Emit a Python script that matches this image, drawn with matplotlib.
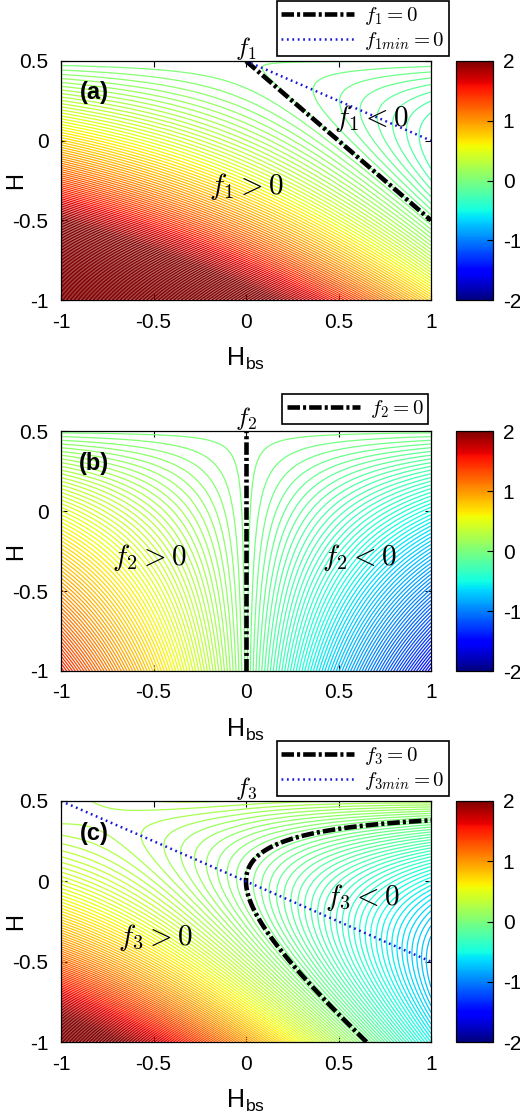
import numpy as np
import matplotlib
matplotlib.use('Agg')
import matplotlib.pyplot as plt
from matplotlib.lines import Line2D
from matplotlib.colors import Normalize
from matplotlib.cm import ScalarMappable

plt.rcParams['mathtext.fontset'] = 'cm'
plt.rcParams['font.family'] = ['Liberation Sans', 'DejaVu Sans']
plt.rcParams['axes.unicode_minus'] = False
plt.rcParams['lines.scale_dashes'] = False

# axis ranges and ticks
hbs_range = [-1, 1]
h_range = [-1, 0.5]
xticks = [-1, -0.5, 0, 0.5, 1]
xticklabels = ['-1', '-0.5', '0', '0.5', '1']
yticks = [-1, -0.5, 0, 0.5]
yticklabels = ['-1', '-0.5', '0', '0.5']
cbar_ticks = [-2, -1, 0, 1, 2]
cbar_ticklabels = ['-2', '-1', '0', '1', '2']

# field coefficients
f1_scale = 1.0
f2_scale = 1.0
f3_lin = 0.555
f3_quad = 0.219
f3_saddle = -0.8
n_levels = [130, 130, 130]

# marked lines
f1zero_hbs = [0, 1]
f1zero_h = [0.5, -0.5]
f1min_hbs = [0, 1]
f1min_h = [0.5, 0]
f2zero_hbs = [0, 0]
f2zero_h = [-1, 0.5]
f3min_hbs = [-1, 1]
f3min_h = [0.5, -0.5]

hbs = np.linspace(hbs_range[0], hbs_range[1], 500)
h = np.linspace(h_range[0], h_range[1], 400)
X, Y = np.meshgrid(hbs, h)
U = 0.5 - Y

Z1 = f1_scale * U * (U - X)
Z2 = -f2_scale * X * U
G3 = np.where(X >= 0, -f3_lin * X - f3_quad * X ** 2,
              -f3_lin * X * (1 + X / (2 * -f3_saddle)))
Z3 = (Y + X / 2) ** 2 + G3

W, Hpx = 520, 1117
axes_top = [61, 431, 801]
axes_bot = [300, 671, 1042]

DASHDOT = (0, (9, 2.2, 2.2, 2.2))
DOT = (0, (1.3, 2.6))
BLUE = '#1a1ad6'

fig = plt.figure(figsize=(W / 100, Hpx / 100), dpi=100)

fields = [Z1, Z2, Z3]
tags = ['(a)', '(b)', '(c)']
titles = ['$f_1$', '$f_2$', '$f_3$']

for i in range(3):
    top, bot = axes_top[i], axes_bot[i]
    ax = fig.add_axes([61 / W, 1 - bot / Hpx, 370 / W, (bot - top) / Hpx])
    Z = fields[i]
    lev = np.linspace(Z.min(), Z.max(), n_levels[i])
    ax.contour(X, Y, Z, levels=lev, cmap='jet', vmin=-2, vmax=2, linewidths=0.9)
    ax.set_xlim(hbs_range)
    ax.set_ylim(h_range)
    ax.set_xticks(xticks)
    ax.set_xticklabels(xticklabels)
    ax.set_yticks(yticks)
    ax.set_yticklabels(yticklabels)
    ax.tick_params(direction='in', top=True, right=True, length=4, width=0.8,
                   labelsize=15)
    ax.tick_params(axis='x', pad=9)
    ax.tick_params(axis='y', pad=9)
    for s in ax.spines.values():
        s.set_linewidth(0.9)
    ax.set_xlabel('H$_{\\mathregular{bs}}$', fontsize=18)
    ax.set_ylabel('H', fontsize=17)
    ax.xaxis.set_label_coords(0.5, -46 / (bot - top))
    ax.yaxis.set_label_coords(-34 / 370, 0.5)
    ax.set_title(titles[i], fontsize=18, pad=4)
    ax.text(-0.82, 0.3, tags[i], fontsize=17, fontweight='bold', ha='center', va='center')

    if i == 0:
        ax.plot(f1zero_hbs, f1zero_h, color='k', lw=3.3, linestyle=DASHDOT)
        ax.plot(f1min_hbs, f1min_h, color=BLUE, lw=1.8, linestyle=DOT)
        ax.text(0.0, -0.29, '$f_1 > 0$', fontsize=21, ha='center', va='center')
        ax.text(0.68, 0.14, '$f_1 < 0$', fontsize=21, ha='center', va='center')
        handles = [Line2D([], [], color='k', lw=3.3, linestyle=DASHDOT),
                   Line2D([], [], color=BLUE, lw=1.8, linestyle=DOT)]
        labels = ['$f_1 = 0$', '$f_{1min} = 0$']
        anchor = (1.049, 1 + 60 / (bot - top))
    elif i == 1:
        ax.plot(f2zero_hbs, f2zero_h, color='k', lw=3.3, linestyle=DASHDOT)
        ax.text(-0.52, -0.29, '$f_2 > 0$', fontsize=21, ha='center', va='center')
        ax.text(0.61, -0.29, '$f_2 < 0$', fontsize=21, ha='center', va='center')
        handles = [Line2D([], [], color='k', lw=3.3, linestyle=DASHDOT)]
        labels = ['$f_2 = 0$']
        anchor = (0.992, 1 + 37 / (bot - top))
    else:
        ax.contour(X, Y, Z, levels=[0], colors='k', linewidths=3.3, linestyles=[DASHDOT])
        ax.plot(f3min_hbs, f3min_h, color=BLUE, lw=1.8, linestyle=DOT)
        ax.text(-0.49, -0.35, '$f_3 > 0$', fontsize=21, ha='center', va='center')
        ax.text(0.63, -0.1, '$f_3 < 0$', fontsize=21, ha='center', va='center')
        handles = [Line2D([], [], color='k', lw=3.3, linestyle=DASHDOT),
                   Line2D([], [], color=BLUE, lw=1.8, linestyle=DOT)]
        labels = ['$f_3 = 0$', '$f_{3min} = 0$']
        anchor = (1.049, 1 + 60 / (bot - top))

    leg = ax.legend(handles, labels, loc='upper right', bbox_to_anchor=anchor,
                    borderaxespad=0, fontsize=15, handlelength=3.5, handletextpad=0.5,
                    fancybox=False, framealpha=1, edgecolor='k', borderpad=0.2,
                    labelspacing=0.15)
    leg.get_frame().set_linewidth(1.2)

    cax = fig.add_axes([456 / W, 1 - bot / Hpx, 37 / W, (bot - top) / Hpx])
    cb = fig.colorbar(ScalarMappable(norm=Normalize(-2, 2), cmap='jet'), cax=cax,
                      ticks=cbar_ticks)
    cb.set_ticklabels(cbar_ticklabels)
    cb.outline.set_linewidth(0.9)
    cax.tick_params(direction='in', length=4, labelsize=15, pad=7)

fig.savefig('out.png', dpi=100)
